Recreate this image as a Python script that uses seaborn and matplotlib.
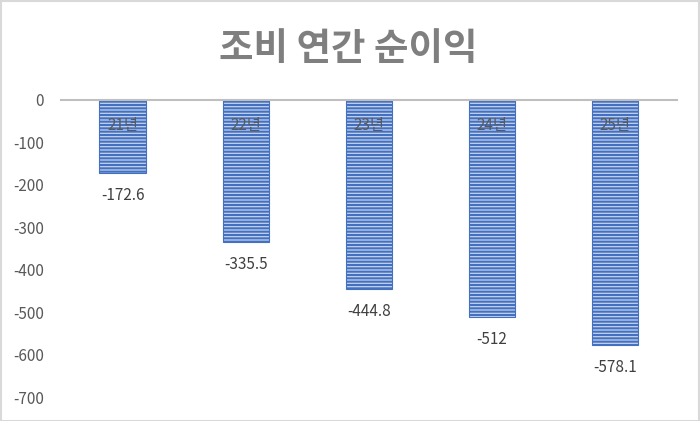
import numpy as np
import pandas as pd
import seaborn as sns
import matplotlib.pyplot as plt
from matplotlib.patches import Rectangle

years = ['21년', '22년', '23년', '24년', '25년']
net_income = [-172.6, -335.5, -444.8, -512, -578.1]
value_labels = ['-172.6', '-335.5', '-444.8', '-512', '-578.1']
y_ticks = [0, -100, -200, -300, -400, -500, -600, -700]

sns.set_style('white')
plt.rcParams['font.family'] = ['Noto Sans CJK KR', 'DejaVu Sans']
plt.rcParams['hatch.linewidth'] = 1.5
plt.rcParams['hatch.color'] = '#4470c0'

df = pd.DataFrame({'year': years, 'income': net_income})

fig = plt.figure(figsize=(7, 4.21), dpi=100)
ax = fig.add_axes([0.087, 0.057, 0.88, 0.7055])

sns.barplot(data=df, x='year', y='income', color='#c4d2ee', width=0.375,
            saturation=1, ax=ax)

for bar, lab, yr in zip(ax.patches, value_labels, years):
    bar.set_hatch('-----')
    bar.set_edgecolor('#4470c0')
    bar.set_linewidth(0.8)
    cx = bar.get_x() + bar.get_width() / 2
    ax.annotate(lab, (cx, bar.get_height()), xytext=(0, -10),
                textcoords='offset points', ha='center', va='top',
                fontsize=11, color='#404040')
    # category label sits just under the zero line, over the bar
    ax.annotate(yr, (cx, 0), xytext=(0, -18.5),
                textcoords='offset points', ha='center', va='center',
                fontsize=11, color='#595959', zorder=5)

ax.set_ylim(-700, 0)
ax.set_yticks(y_ticks)
ax.set_yticklabels([str(t) for t in y_ticks], fontsize=11, color='#595959')
ax.tick_params(axis='y', length=0, pad=12)
ax.set_xticks([])
ax.set_xlabel('')
ax.set_ylabel('')

for side in ['left', 'right', 'bottom']:
    ax.spines[side].set_visible(False)
ax.spines['top'].set_color('#bfbfbf')
ax.spines['top'].set_linewidth(1.5)

fig.text(0.497, 0.885, '조비 연간 순이익', ha='center', va='center',
         fontsize=27, fontweight='bold', color='#7f7f7f')

fig.patches.append(Rectangle((0.001, 0.001), 0.997, 0.996, transform=fig.transFigure,
                             fill=False, edgecolor='#d9d9d9', linewidth=1.5))

fig.savefig('out.png', dpi=100)
